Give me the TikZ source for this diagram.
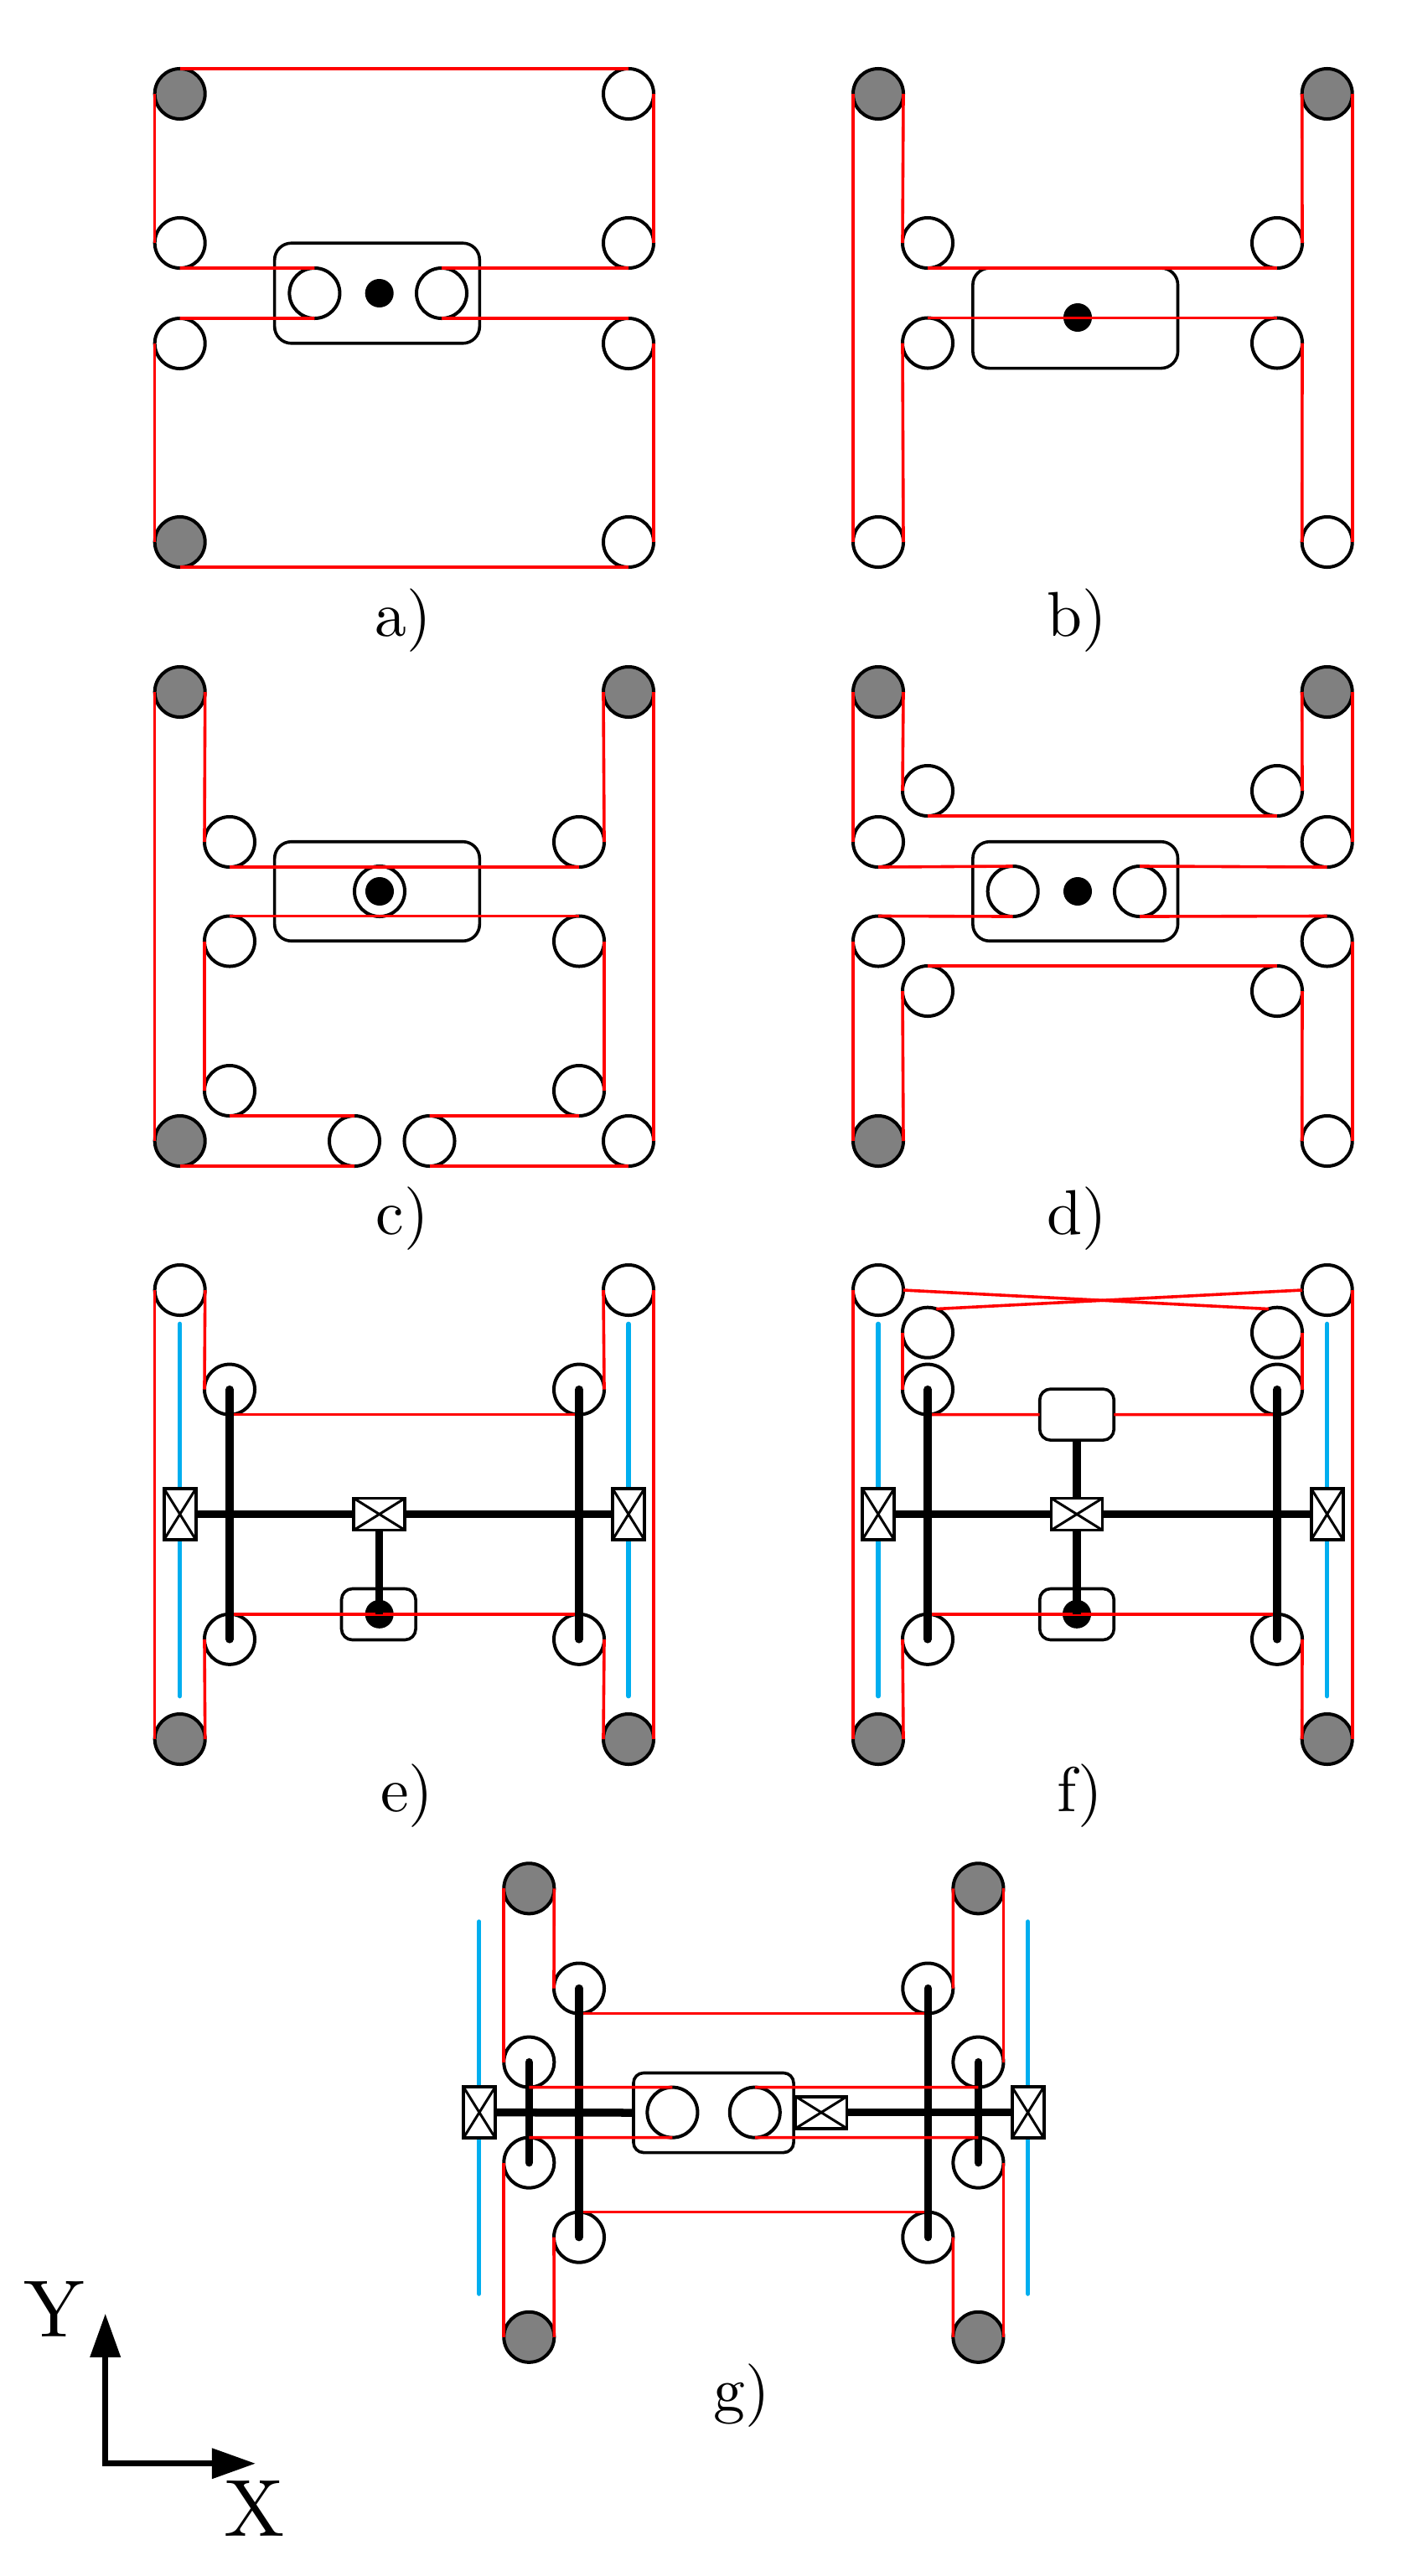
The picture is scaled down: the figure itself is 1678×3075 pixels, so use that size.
\documentclass[tikz,border=0pt]{standalone}
\usepackage{tikz}
\usetikzlibrary{arrows.meta,positioning}
\definecolor{beltred}{HTML}{FF0000}
\definecolor{railblue}{HTML}{00AEEF}
\definecolor{fixedgray}{HTML}{808080}
\font\panelfont="[lmroman10-regular]" at 21.5pt
\font\axisfont="[lmroman10-regular]" at 27.5pt
\tikzset{
    pulley/.style={circle, draw, fill=white, line width=0.04cm, minimum size=0.6cm, inner sep=0pt, outer sep=0pt},
    fixedpulley/.style={pulley, fill=fixedgray},
    housing/.style={rectangle, draw, fill=white, line width=0.036cm, rounded corners=0.2cm, inner sep=0pt, outer sep=0pt},
    motordot/.style={circle, fill=black, minimum size=0.34cm, inner sep=0pt, outer sep=0pt},
    bearing/.style={rectangle, draw, fill=white, line width=0.038cm, inner sep=0pt, outer sep=0pt,
        path picture={\draw[line width=0.03cm] (path picture bounding box.north west) -- (path picture bounding box.south east)
            (path picture bounding box.north east) -- (path picture bounding box.south west);}},
    bearingv/.style={bearing, minimum width=0.38cm, minimum height=0.61cm},
    bearingh/.style={bearing, minimum width=0.61cm, minimum height=0.38cm},
    belt/.style={draw=beltred, line width=0.036cm},
    rail/.style={draw=railblue, line width=0.055cm, line cap=round},
    axle/.style={line width=0.095cm},
    shaft/.style={axle, line cap=round},
    panellabel/.style={inner sep=0pt, font=\panelfont},
    axislabel/.style={inner sep=0pt, font=\axisfont}
}

\begin{document}
\begin{tikzpicture}[x=0.01cm, y=-0.01cm]
    \useasboundingbox (0,0) rectangle (1678,3075);

    % Panel a
    \node[housing, minimum width=2.445cm, minimum height=1.195cm] (ahousing) at (450,350) {};
    \node[fixedpulley] (atl) at (214.7,112) {};
    \node[pulley] (atr) at (750,112) {};
    \node[pulley] (aul) at (214.7,290) {};
    \node[pulley] (aur) at (750,290) {};
    \node[pulley] (all) at (214.7,410) {};
    \node[pulley] (alr) at (750,410) {};
    \node[fixedpulley] (abl) at (214.7,647) {};
    \node[pulley] (abr) at (750,647) {};
    \node[pulley] (ainl) at (375.4,350) {};
    \node[pulley] (ainr) at (527,350) {};
    \node[motordot] (adot) at (452.7,350) {};
    \draw[belt] (atl.north) -- (atr.north);
    \draw[belt] (atl.west) -- (aul.west);
    \draw[belt] (atr.east) -- (aur.east);
    \draw[belt] (aul.south) -- (ainl.north);
    \draw[belt] (aur.south) -- (ainr.north);
    \draw[belt] (all.north) -- (ainl.south);
    \draw[belt] (alr.north) -- (ainr.south);
    \draw[belt] (all.west) -- (abl.west);
    \draw[belt] (alr.east) -- (abr.east);
    \draw[belt] (abl.south) -- (abr.south);
    \node[panellabel] (alabel) at (481,741) {a)};

    % Panel b
    \node[housing, minimum width=2.445cm, minimum height=1.195cm] (bhousing) at (1283.2,379.8) {};
    \node[fixedpulley] (btl) at (1048,112) {};
    \node[fixedpulley] (btr) at (1583.7,112) {};
    \node[pulley] (bul) at (1107,290) {};
    \node[pulley] (bur) at (1524,290) {};
    \node[pulley] (bll) at (1107,409.5) {};
    \node[pulley] (blr) at (1524,409.5) {};
    \node[pulley] (bbl) at (1048,647) {};
    \node[pulley] (bbr) at (1583.7,647) {};
    \node[motordot] (bdot) at (1286,379) {};
    \draw[belt] (btl.west) -- (bbl.west);
    \draw[belt] (btl.east) -- (bul.west);
    \draw[belt] (bul.south) -- (bur.south);
    \draw[belt] (bur.east) -- (btr.west);
    \draw[belt] (btr.east) -- (bbr.east);
    \draw[belt] (bll.north) -- (blr.north);
    \draw[belt] (bll.west) -- (bbl.east);
    \draw[belt] (blr.east) -- (bbr.west);
    \node[panellabel] (blabel) at (1285,741) {b)};

    % Panel c
    \node[housing, minimum width=2.445cm, minimum height=1.185cm] (chousing) at (450,1064) {};
    \node[fixedpulley] (ctl) at (214.7,826) {};
    \node[fixedpulley] (ctr) at (750,826) {};
    \node[pulley] (cul) at (274,1005) {};
    \node[pulley] (cur) at (691,1005) {};
    \node[pulley] (cll) at (274,1123.5) {};
    \node[pulley] (clr) at (691,1123.5) {};
    \node[pulley] (cdl) at (274,1302) {};
    \node[pulley] (cdr) at (691,1302) {};
    \node[fixedpulley] (cbl) at (214.7,1362) {};
    \node[pulley] (cbr) at (750,1362) {};
    \node[pulley] (cbml) at (423,1362) {};
    \node[pulley] (cbmr) at (512.5,1362) {};
    \node[pulley] (cmid) at (453,1064) {};
    \node[motordot] (cdot) at (453,1064) {};
    \draw[belt] (ctl.west) -- (cbl.west);
    \draw[belt] (ctl.east) -- (cul.west);
    \draw[belt] (cul.south) -- (cur.south);
    \draw[belt] (cur.east) -- (ctr.west);
    \draw[belt] (ctr.east) -- (cbr.east);
    \draw[belt] (cll.north) -- (clr.north);
    \draw[belt] (cll.west) -- (cdl.west);
    \draw[belt] (clr.east) -- (cdr.east);
    \draw[belt] (cdl.south) -- (cbml.north);
    \draw[belt] (cdr.south) -- (cbmr.north);
    \draw[belt] (cbl.south) -- (cbml.south);
    \draw[belt] (cbmr.south) -- (cbr.south);
    \node[panellabel] (clabel) at (480,1455) {c)};

    % Panel d
    \node[housing, minimum width=2.445cm, minimum height=1.185cm] (dhousing) at (1283.2,1064) {};
    \node[fixedpulley] (dtl) at (1048,826) {};
    \node[fixedpulley] (dtr) at (1583.7,826) {};
    \node[pulley] (dil) at (1107,944) {};
    \node[pulley] (dir) at (1524,944) {};
    \node[pulley] (dul) at (1048,1005) {};
    \node[pulley] (dur) at (1583.7,1005) {};
    \node[pulley] (dll) at (1048,1123.5) {};
    \node[pulley] (dlr) at (1583.7,1123.5) {};
    \node[pulley] (djl) at (1107,1183) {};
    \node[pulley] (djr) at (1524,1183) {};
    \node[fixedpulley] (dbl) at (1048,1362) {};
    \node[pulley] (dbr) at (1583.7,1362) {};
    \node[pulley] (dinl) at (1208.7,1064) {};
    \node[pulley] (dinr) at (1360,1064) {};
    \node[motordot] (ddot) at (1286,1064) {};
    \draw[belt] (dtl.west) -- (dul.west);
    \draw[belt] (dtl.east) -- (dil.west);
    \draw[belt] (dil.south) -- (dir.south);
    \draw[belt] (dir.east) -- (dtr.west);
    \draw[belt] (dtr.east) -- (dur.east);
    \draw[belt] (dul.south) -- (dinl.north);
    \draw[belt] (dur.south) -- (dinr.north);
    \draw[belt] (dll.north) -- (dinl.south);
    \draw[belt] (dlr.north) -- (dinr.south);
    \draw[belt] (dll.west) -- (dbl.west);
    \draw[belt] (dlr.east) -- (dbr.east);
    \draw[belt] (djl.north) -- (djr.north);
    \draw[belt] (djl.west) -- (dbl.east);
    \draw[belt] (djr.east) -- (dbr.west);
    \node[panellabel] (dlabel) at (1285,1455) {d)};

    % Panel e
    \node[fixedpulley] (ebl) at (214.7,2076) {};
    \node[fixedpulley] (ebr) at (750,2076) {};
    \node[pulley] (etl) at (214.7,1540) {};
    \node[pulley] (etr) at (750,1540) {};
    \node[pulley] (eul) at (274,1658.6) {};
    \node[pulley] (eur) at (691,1658.6) {};
    \node[pulley] (ell) at (274,1956.8) {};
    \node[pulley] (elr) at (691,1956.8) {};
    \node[housing, rounded corners=0.13cm, minimum width=0.885cm, minimum height=0.61cm] (ebox) at (451.8,1927) {};
    \node[motordot] (edot) at (452.7,1926.8) {};
    \draw[belt] (etl.west) -- (ebl.west);
    \draw[belt] (etl.east) -- (eul.west);
    \draw[belt] (eul.south) -- (eur.south);
    \draw[belt] (eur.east) -- (etr.west);
    \draw[belt] (etr.east) -- (ebr.east);
    \draw[belt] (ell.north) -- (elr.north);
    \draw[belt] (ell.west) -- (ebl.east);
    \draw[belt] (elr.east) -- (ebr.west);
    \coordinate (eguidelt) at (214.7,1580.4);
    \coordinate (eguidelb) at (214.7,2024.6);
    \coordinate (eguidert) at (750,1580.4);
    \coordinate (eguiderb) at (750,2024.6);
    \draw[rail] (eguidelt) -- (eguidelb);
    \draw[rail] (eguidert) -- (eguiderb);
    \node[bearingv] (ebearl) at (214.7,1807.5) {};
    \node[bearingv] (ebearr) at (750,1807.5) {};
    \node[bearingh] (ebearm) at (452.7,1807.5) {};
    \draw[axle] (ebearl.east) -- (ebearm.west);
    \draw[axle] (ebearm.east) -- (ebearr.west);
    \draw[axle] (ebearm.south) -- (edot.center);
    \draw[shaft] (eul.center) -- (ell.center);
    \draw[shaft] (eur.center) -- (elr.center);
    \node[panellabel] (elabel) at (485.7,2144) {e)};

    % Panel f
    \node[fixedpulley] (fbl) at (1048,2076) {};
    \node[fixedpulley] (fbr) at (1583.7,2076) {};
    \node[pulley] (ftl) at (1048,1540) {};
    \node[pulley] (ftr) at (1583.7,1540) {};
    \node[pulley] (fil) at (1107,1590.7) {};
    \node[pulley] (fir) at (1524,1590.7) {};
    \node[pulley] (ful) at (1107,1658.6) {};
    \node[pulley] (fur) at (1524,1658.6) {};
    \node[pulley] (fll) at (1107,1956.8) {};
    \node[pulley] (flr) at (1524,1956.8) {};
    \node[housing, rounded corners=0.13cm, minimum width=0.885cm, minimum height=0.61cm] (fboxu) at (1285,1688.6) {};
    \node[housing, rounded corners=0.13cm, minimum width=0.885cm, minimum height=0.61cm] (fboxl) at (1285,1927) {};
    \node[motordot] (fdot) at (1285,1926.8) {};
    \draw[belt] (ftl.west) -- (fbl.west);
    \draw[belt] (ftl.east) -- (fir.110);
    \draw[belt] (fil.70) -- (ftr.west);
    \draw[belt] (fil.west) -- (ful.west);
    \draw[belt] (fir.east) -- (fur.east);
    \draw[belt] (ful.south) -- (fboxu.west);
    \draw[belt] (fboxu.east) -- (fur.south);
    \draw[belt] (ftr.east) -- (fbr.east);
    \draw[belt] (fll.north) -- (flr.north);
    \draw[belt] (fll.west) -- (fbl.east);
    \draw[belt] (flr.east) -- (fbr.west);
    \coordinate (fguidelt) at (1048,1580.4);
    \coordinate (fguidelb) at (1048,2024.6);
    \coordinate (fguidert) at (1583.7,1580.4);
    \coordinate (fguiderb) at (1583.7,2024.6);
    \draw[rail] (fguidelt) -- (fguidelb);
    \draw[rail] (fguidert) -- (fguiderb);
    \node[bearingv] (fbearl) at (1048,1807.5) {};
    \node[bearingv] (fbearr) at (1583.7,1807.5) {};
    \node[bearingh] (fbearm) at (1285,1807.5) {};
    \draw[axle] (fbearl.east) -- (fbearm.west);
    \draw[axle] (fbearm.east) -- (fbearr.west);
    \draw[axle] (fbearm.north) -- (fboxu.south);
    \draw[axle] (fbearm.south) -- (fdot.center);
    \draw[shaft] (ful.center) -- (fll.center);
    \draw[shaft] (fur.center) -- (flr.center);
    \node[panellabel] (flabel) at (1289,2144) {f)};

    % Panel g
    \coordinate (gguidelt) at (571.7,2294);
    \coordinate (gguidelb) at (571.7,2738);
    \coordinate (gguidert) at (1226.6,2294);
    \coordinate (gguiderb) at (1226.6,2738);
    \draw[rail] (gguidelt) -- (gguidelb);
    \draw[rail] (gguidert) -- (gguiderb);
    \node[fixedpulley] (gtl) at (631.3,2254.3) {};
    \node[fixedpulley] (gtr) at (1167.4,2254.3) {};
    \node[fixedpulley] (gbl) at (631.3,2789.8) {};
    \node[fixedpulley] (gbr) at (1167.4,2789.8) {};
    \node[pulley] (gil) at (691,2373.5) {};
    \node[pulley] (gir) at (1107.3,2373.5) {};
    \node[pulley] (gjl) at (691,2670.6) {};
    \node[pulley] (gjr) at (1107.3,2670.6) {};
    \node[pulley] (gul) at (631.3,2461.6) {};
    \node[pulley] (gur) at (1167.4,2461.6) {};
    \node[pulley] (gll) at (631.3,2581.6) {};
    \node[pulley] (glr) at (1167.4,2581.6) {};
    \node[housing, rounded corners=0.12cm, minimum width=1.91cm, minimum height=0.95cm] (ghousing) at (851.5,2522) {};
    \node[pulley] (ginl) at (802.4,2521.6) {};
    \node[pulley] (ginr) at (900.8,2521.6) {};
    \draw[belt] (gtl.west) -- (gul.west);
    \draw[belt] (gtl.east) -- (gil.west);
    \draw[belt] (gil.south) -- (gir.south);
    \draw[belt] (gir.east) -- (gtr.west);
    \draw[belt] (gtr.east) -- (gur.east);
    \draw[belt] (gll.west) -- (gbl.west);
    \draw[belt] (gjl.west) -- (gbl.east);
    \draw[belt] (gjl.north) -- (gjr.north);
    \draw[belt] (gjr.east) -- (gbr.west);
    \draw[belt] (glr.east) -- (gbr.east);
    \node[bearingv] (gbearl) at (572,2521.6) {};
    \node[bearingv] (gbearr) at (1226.6,2521.6) {};
    \node[bearingh] (gbearm) at (980,2521.6) {};
    \draw[axle] (gbearl.east) -- (ghousing.west);
    \draw[axle] (gbearm.east) -- (gbearr.west);
    \draw[shaft] (gil.center) -- (gjl.center);
    \draw[shaft] (gir.center) -- (gjr.center);
    \draw[shaft] (gul.center) -- (gll.center);
    \draw[shaft] (gur.center) -- (glr.center);
    \draw[belt] (gul.south) -- (ginl.north);
    \draw[belt] (gll.north) -- (ginl.south);
    \draw[belt] (ginr.north) -- (gur.south);
    \draw[belt] (ginr.south) -- (glr.north);
    \node[panellabel] (glabel) at (885,2860) {g)};

    % Axes
    \coordinate (axisorigin) at (125.7,2940.7);
    \coordinate (axisx) at (305,2940.7);
    \coordinate (axisy) at (125.7,2761.7);
    \draw[line width=0.067cm, {Triangle[length=0.52cm,width=0.35cm]}-{Triangle[length=0.52cm,width=0.35cm]}] (axisy) -- (axisorigin) -- (axisx);
    \node[axislabel] (ylabel) at (65,2756) {Y};
    \node[axislabel] (xlabel) at (304,2994) {X};
\end{tikzpicture}
\end{document}
